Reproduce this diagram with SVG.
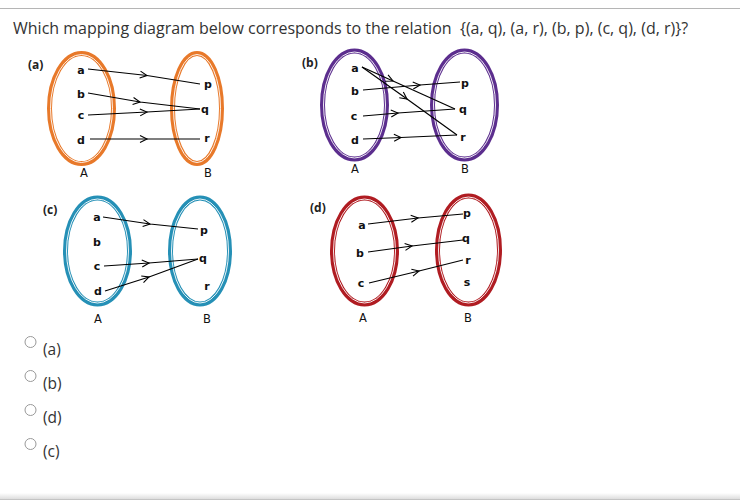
<svg xmlns="http://www.w3.org/2000/svg" width="740" height="500" viewBox="0 0 740 500">
<defs>
<marker id="chev" markerUnits="userSpaceOnUse" markerWidth="12" markerHeight="12" viewBox="-8 -6 12 12" refX="0" refY="0" orient="auto">
<path d="M-7,-3.5 L0,0 L-7,3.5" fill="none" stroke="#000" stroke-width="1.1"/>
</marker>
<linearGradient id="sh" x1="0" y1="0" x2="0" y2="1">
<stop offset="0" stop-color="#fff"/>
<stop offset="1" stop-color="#d8d8d8"/>
</linearGradient>
</defs>
<style>
.title{font-family:"Open Sans","Liberation Sans",sans-serif;font-size:16px;fill:#333}
.opt{font-family:"Open Sans","Liberation Sans",sans-serif;font-size:15.5px;fill:#333}
.tag{font-family:"Open Sans","Liberation Sans",sans-serif;font-size:12px;font-weight:bold;fill:#222}
.el{font-family:"DejaVu Sans","Liberation Sans",sans-serif;font-size:11px;font-weight:bold;fill:#111;text-anchor:middle}
.set{font-family:"DejaVu Sans","Liberation Sans",sans-serif;font-size:11.5px;fill:#111;text-anchor:middle}
.ring{fill:none;stroke-width:5}
.inner{fill:none;stroke:#fff;stroke-width:0.9}
.conn path{fill:none;stroke:#000;stroke-width:1.2;marker-mid:url(#chev)}
.radio{fill:#fff;stroke:#999;stroke-width:1}
</style>
<rect x="0" y="0" width="740" height="500" fill="#fff"/>
<line x1="0" y1="8.5" x2="740" y2="8.5" stroke="#b5b5b5" stroke-width="1"/>
<text class="title" x="13" y="34">Which mapping diagram below corresponds to the relation &#160;{(a, q), (a, r), (b, p), (c, q), (d, r)}?</text>

<!-- (a) -->
<g id="diagram-a">
<text class="tag" x="28" y="69">(a)</text>
<g id="a-setA">
<ellipse class="ring" cx="81.5" cy="108.5" rx="32" ry="55" stroke="#E8792A"/>
<ellipse class="inner" cx="81.5" cy="108.5" rx="31" ry="54"/>
<text class="set" x="84" y="177">A</text>
</g>
<g id="a-setB">
<ellipse class="ring" cx="197" cy="108.5" rx="24.5" ry="55" stroke="#E8792A"/>
<ellipse class="inner" cx="197" cy="108.5" rx="23.5" ry="54"/>
<text class="set" x="208" y="177">B</text>
</g>
<text class="el" x="81" y="74">a</text>
<text class="el" x="81" y="98">b</text>
<text class="el" x="81" y="119">c</text>
<text class="el" x="81" y="144">d</text>
<text class="el" x="208" y="88">p</text>
<text class="el" x="205" y="113">q</text>
<text class="el" x="207" y="142">r</text>
</g>

<!-- (b) -->
<g id="diagram-b">
<text class="tag" x="302" y="67">(b)</text>
<g id="b-setA">
<ellipse class="ring" cx="354.5" cy="105" rx="32" ry="54" stroke="#5C2E8E"/>
<ellipse class="inner" cx="354.5" cy="105" rx="31" ry="53"/>
<text class="set" x="355" y="173">A</text>
</g>
<g id="b-setB">
<ellipse class="ring" cx="464.5" cy="105" rx="32" ry="54" stroke="#5C2E8E"/>
<ellipse class="inner" cx="464.5" cy="105" rx="31" ry="53"/>
<text class="set" x="465" y="173">B</text>
</g>
<text class="el" x="355" y="72">a</text>
<text class="el" x="355" y="95">b</text>
<text class="el" x="354" y="120">c</text>
<text class="el" x="355" y="144">d</text>
<text class="el" x="465" y="87">p</text>
<text class="el" x="463" y="113">q</text>
<text class="el" x="463" y="141">r</text>
</g>

<!-- (c) -->
<g id="diagram-c">
<text class="tag" x="43" y="214">(c)</text>
<g id="c-setA">
<ellipse class="ring" cx="97.5" cy="251" rx="32" ry="53" stroke="#2590B6"/>
<ellipse class="inner" cx="97.5" cy="251" rx="31" ry="52"/>
<text class="set" x="98" y="323">A</text>
</g>
<g id="c-setB">
<ellipse class="ring" cx="200" cy="251" rx="29.5" ry="53" stroke="#2590B6"/>
<ellipse class="inner" cx="200" cy="251" rx="28.5" ry="52"/>
<text class="set" x="207" y="323">B</text>
</g>
<text class="el" x="97" y="221">a</text>
<text class="el" x="97" y="246">b</text>
<text class="el" x="97" y="270">c</text>
<text class="el" x="98" y="295">d</text>
<text class="el" x="204" y="234">p</text>
<text class="el" x="203" y="262">q</text>
<text class="el" x="207" y="290">r</text>
</g>

<!-- (d) -->
<g id="diagram-d">
<text class="tag" x="310" y="212">(d)</text>
<g id="d-setA">
<ellipse class="ring" cx="364.5" cy="251" rx="32" ry="53" stroke="#B01C22"/>
<ellipse class="inner" cx="364.5" cy="251" rx="31" ry="52"/>
<text class="set" x="363" y="322">A</text>
</g>
<g id="d-setB">
<ellipse class="ring" cx="468.5" cy="250" rx="31" ry="54" stroke="#B01C22"/>
<ellipse class="inner" cx="468.5" cy="250" rx="30" ry="53"/>
<text class="set" x="468" y="322">B</text>
</g>
<text class="el" x="362" y="229">a</text>
<text class="el" x="360" y="257">b</text>
<text class="el" x="361" y="287">c</text>
<text class="el" x="467" y="217">p</text>
<text class="el" x="466" y="242">q</text>
<text class="el" x="468" y="264">r</text>
<text class="el" x="467" y="286">s</text>
</g>

<g id="connectors" class="conn">
<!-- a -->
<path d="M88,69 L147,75.5 L200,84"/>
<path d="M88,93 L140,102 L200,109"/>
<path d="M88,115 L147,112 L200,109"/>
<path d="M90,139 L147,139 L200,139"/>
<!-- b -->
<path d="M362,67 L393,81 L455,109"/>
<path d="M362,67 L407,99 L457,135"/>
<path d="M363,90 L420,85 L460,82"/>
<path d="M363,116 L398,113 L455,109"/>
<path d="M363,139 L401,137.5 L457,135"/>
<!-- c -->
<path d="M103,217 L150,224 L198,229"/>
<path d="M104,266 L149,263 L198,259"/>
<path d="M105,291 L149,277 L198,259"/>
<!-- d -->
<path d="M368,224 L418,218 L463,214"/>
<path d="M368,252 L412,246 L463,240"/>
<path d="M369,283 L419,271 L463,260"/>
</g>

<g id="options">
<circle class="radio" cx="30.5" cy="342" r="5.5"/>
<text class="opt" x="43" y="355">(a)</text>
<circle class="radio" cx="30.5" cy="376" r="5.5"/>
<text class="opt" x="43" y="389">(b)</text>
<circle class="radio" cx="30.5" cy="410" r="5.5"/>
<text class="opt" x="43" y="423">(d)</text>
<circle class="radio" cx="30.5" cy="444" r="5.5"/>
<text class="opt" x="43" y="457">(c)</text>
</g>
<rect x="0" y="493" width="740" height="7" fill="url(#sh)"/>
<line x1="0" y1="499.5" x2="740" y2="499.5" stroke="#c4c4c4" stroke-width="1"/>
</svg>
